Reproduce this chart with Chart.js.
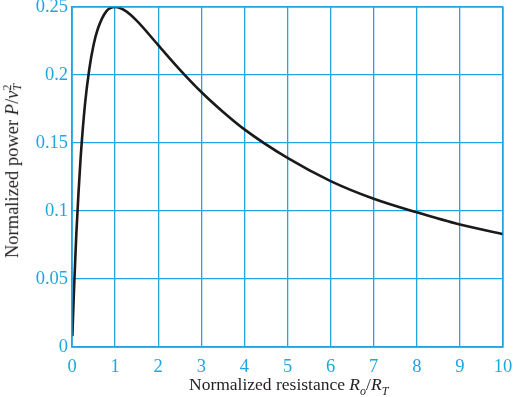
<!DOCTYPE html>
<html>
<head>
<meta charset="utf-8">
<script src="https://cdn.jsdelivr.net/npm/chart.js@4/dist/chart.umd.min.js"></script>
<style>
  html, body { margin: 0; padding: 0; background: #fff; }
  #wrap { position: relative; width: 514px; height: 397px; }
  #chart { position: absolute; left: 0; top: 0; }
  .ttl { position: absolute; font-family: "Liberation Serif", "DejaVu Serif", serif; color: #231f20; white-space: nowrap; }
  #xTitle { left: 189px; top: 374px; font-size: 17.5px; }
  #yTitle { left: 13px; top: 171px; font-size: 18.5px; transform: translate(-50%, -50%) rotate(-90deg); }
  .sb { font-size: 12px; }
  .ss { display: inline-block; vertical-align: middle; line-height: 10px; font-size: 12px; text-align: left; position: relative; top: -2px; }
</style>
</head>
<body>
<div id="wrap">
  <canvas id="chart" width="514" height="397"></canvas>
  <div id="xTitle" class="ttl">Normalized resistance <i>R</i><sub class="sb"><i>o</i></sub>/<i>R</i><sub class="sb"><i>T</i></sub></div>
  <div id="yTitle" class="ttl">Normalized power <i>P</i>/<i>v</i><span class="ss">2<br><i>T</i></span></div>
</div>
<script>
// values
const resistance = [0.008, 0.05, 0.1, 0.15, 0.2, 0.3, 0.4, 0.5, 0.6, 0.8, 1, 1.25, 1.5, 2, 2.5, 3, 3.5, 4, 5, 6, 7, 8, 9, 10];
const power = [0.008, 0.045, 0.083, 0.113, 0.139, 0.178, 0.204, 0.222, 0.234, 0.247, 0.25, 0.247, 0.24, 0.222, 0.204, 0.1875, 0.173, 0.16, 0.139, 0.122, 0.109, 0.099, 0.09, 0.083];
const xTicks = [0, 1, 2, 3, 4, 5, 6, 7, 8, 9, 10];
const yTicks = [0, 0.05, 0.1, 0.15, 0.2, 0.25];

const blue = "#1fa5e0";
const tickFont = { family: "Liberation Serif", size: 18.5 };

new Chart(document.getElementById("chart"), {
  type: "line",
  data: {
    datasets: [{
      data: resistance.map((x, i) => ({ x: x, y: power[i] })),
      borderColor: "#1a1a1a",
      borderWidth: 2.6,
      pointRadius: 0,
      cubicInterpolationMode: "monotone",
      fill: false,
    }],
  },
  options: {
    responsive: false,
    animation: false,
    layout: { padding: { top: 7, right: 11, left: 0, bottom: 0 } },
    plugins: { legend: { display: false }, tooltip: { enabled: false } },
    scales: {
      x: {
        type: "linear",
        min: 0,
        max: 10,
        afterBuildTicks: (s) => { s.ticks = xTicks.map((v) => ({ value: v })); },
        afterFit: (s) => { s.height = 50; s.paddingLeft = 0; s.paddingRight = 0; },
        grid: { color: blue, lineWidth: 1.3, drawTicks: false },
        border: { color: blue, width: 1.5 },
        ticks: { color: blue, font: tickFont, padding: 9, maxRotation: 0, callback: (v) => v },
      },
      y: {
        min: 0,
        max: 0.25,
        afterBuildTicks: (s) => { s.ticks = yTicks.map((v) => ({ value: v })); },
        afterFit: (s) => { s.width = 72; s.paddingTop = 0; s.paddingBottom = 0; },
        grid: { color: blue, lineWidth: 1.3, drawTicks: false },
        border: { color: blue, width: 1.5 },
        ticks: { color: blue, font: tickFont, padding: 4, callback: (v) => v },
      },
    },
  },
  plugins: [{
    id: "frame",
    afterDraw(chart) {
      const { ctx, chartArea: a } = chart;
      ctx.save();
      ctx.strokeStyle = blue;
      ctx.lineWidth = 1.3;
      ctx.strokeRect(a.left, a.top, a.right - a.left, a.bottom - a.top);
      ctx.restore();
    },
  }],
});
</script>
</body>
</html>
